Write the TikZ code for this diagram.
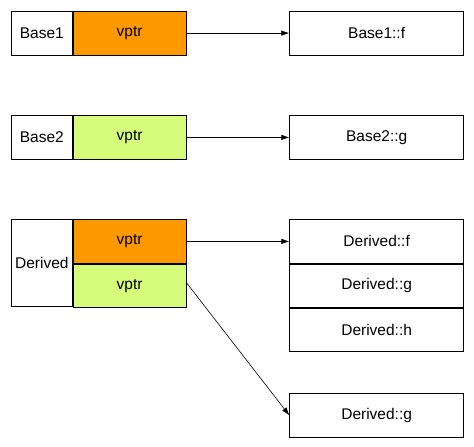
\documentclass[tikz,border=0pt]{standalone}
\usepackage{fontspec}
\setmainfont{Liberation Sans}
\usetikzlibrary{positioning}
\usetikzlibrary{arrows.meta}

\definecolor{vorange}{RGB}{255,153,0}
\definecolor{vgreen}{RGB}{214,250,122}

\begin{document}
\begin{tikzpicture}[x=1pt, y=-1pt, font=\fontsize{15.5}{18}\selectfont,
    cell/.style={draw, line width=0.7pt, inner sep=0pt, minimum height=43.5pt},
    namecell/.style={cell, minimum width=61pt},
    ptrcell/.style={cell, minimum width=113pt},
    fncell/.style={cell, minimum width=174pt},
    ptr/.style={line width=0.6pt, -{Latex[length=8pt, width=5.5pt]}}]
    \useasboundingbox (0, 0) rectangle (474, 447);

    % Base1
    \node[namecell, anchor=north west] (base1) at (11, 11) {Base1};
    \node[ptrcell, fill=vorange, right=0pt of base1] (vptr1) {vptr};
    \node[fncell, anchor=north west] (b1f) at (289.3, 11) {Base1::f};

    % Base2
    \node[namecell, anchor=north west] (base2) at (11, 115.3) {Base2};
    \node[ptrcell, fill=vgreen, right=0pt of base2] (vptr2) {vptr};
    \node[fncell, anchor=north west] (b2g) at (289.3, 115.3) {Base2::g};

    % Derived
    \node[namecell, minimum height=87pt, anchor=north west] (derived) at (11, 219.3) {Derived};
    \node[ptrcell, fill=vorange, anchor=north west] (dvptr1) at (derived.north east) {vptr};
    \node[ptrcell, fill=vgreen, below=0pt of dvptr1] (dvptr2) {vptr};

    % vtables of Derived
    \node[fncell, anchor=north west] (df) at (289.3, 219.3) {Derived::f};
    \node[fncell, below=0pt of df] (dg) {Derived::g};
    \node[fncell, below=0pt of dg] (dh) {Derived::h};
    \node[fncell, anchor=north west] (dg2) at (289.3, 393.2) {Derived::g};

    % pointers
    \draw[ptr] (vptr1) -- (b1f);
    \draw[ptr] (vptr2) -- (b2g);
    \draw[ptr] (dvptr1) -- (df);
    \draw[ptr] ([yshift=3pt]dvptr2.east) -- (dg2.west);
\end{tikzpicture}
\end{document}
